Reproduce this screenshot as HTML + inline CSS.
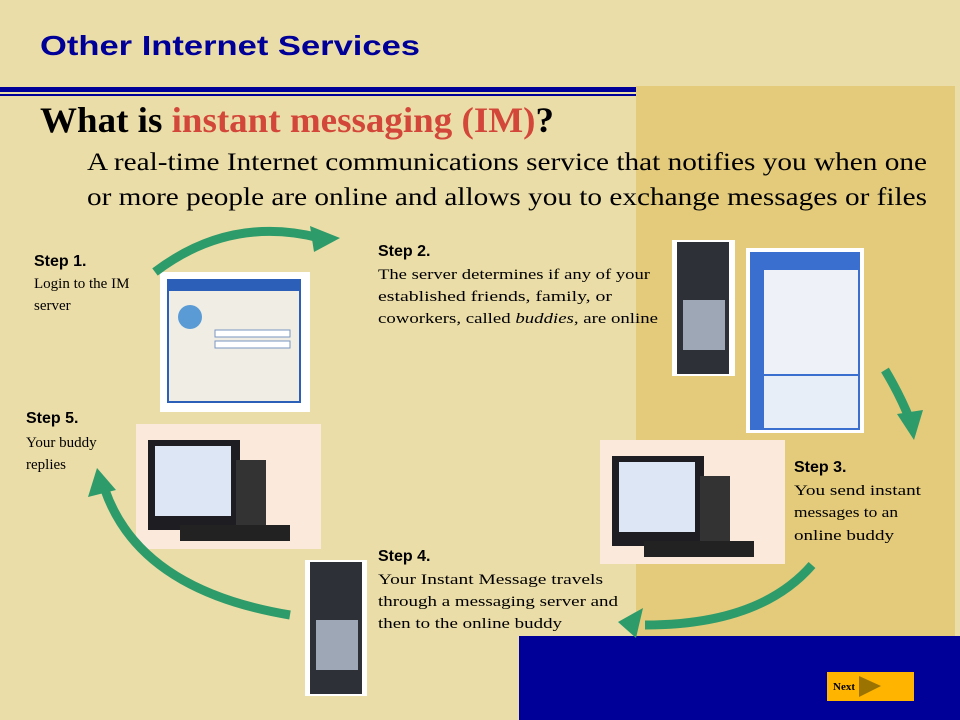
<!DOCTYPE html>
<html><head><meta charset="utf-8"><style>
html,body{margin:0;padding:0;background:#EBDDA7;}
svg{display:block}
.s{font-family:"Liberation Sans",Arial,sans-serif}
.r{font-family:"Liberation Serif","Times New Roman",serif}
</style></head><body>
<svg width="960" height="720" viewBox="0 0 960 720" xmlns="http://www.w3.org/2000/svg">
<rect width="960" height="720" fill="#EBDDA7"/>
<rect x="636" y="86" width="319" height="634" fill="#E3CB7B"/>
<rect x="0" y="87" width="636" height="5" fill="#000099"/>
<rect x="0" y="94" width="636" height="2" fill="#000099"/>
<text class="s" x="40" y="55" font-weight="bold" font-size="28" fill="#000099" textLength="380" lengthAdjust="spacingAndGlyphs">Other Internet Services</text>
<text class="r" x="40" y="132" font-weight="bold" font-size="36" textLength="514" lengthAdjust="spacingAndGlyphs"><tspan fill="#000">What is </tspan><tspan fill="#D2473A">instant messaging (IM)</tspan><tspan fill="#000">?</tspan></text>
<g class="r" font-size="25" fill="#000">
<text x="87" y="170" textLength="840" lengthAdjust="spacingAndGlyphs">A real-time Internet communications service that notifies you when one</text>
<text x="87" y="205" textLength="840" lengthAdjust="spacingAndGlyphs">or more people are online and allows you to exchange messages or files</text>
</g>
<g class="s" font-weight="bold" font-size="16" fill="#000">
<text x="34" y="266">Step 1.</text>
<text x="378" y="256">Step 2.</text>
<text x="26" y="423">Step 5.</text>
<text x="794" y="472">Step 3.</text>
<text x="378" y="561">Step 4.</text>
</g>
<g class="r" font-size="15" fill="#000">
<text x="34" y="288">Login to the IM</text>
<text x="34" y="310">server</text>
<text x="378" y="279" textLength="272" lengthAdjust="spacingAndGlyphs">The server determines if any of your</text>
<text x="378" y="301" textLength="234" lengthAdjust="spacingAndGlyphs">established friends, family, or</text>
<text x="378" y="323" textLength="280" lengthAdjust="spacingAndGlyphs">coworkers, called <tspan font-style="italic">buddies</tspan>, are online</text>
<text x="26" y="447">Your buddy</text>
<text x="26" y="469">replies</text>
<text x="794" y="495" textLength="127" lengthAdjust="spacingAndGlyphs">You send instant</text>
<text x="794" y="517" textLength="104" lengthAdjust="spacingAndGlyphs">messages to an</text>
<text x="794" y="540" textLength="100" lengthAdjust="spacingAndGlyphs">online buddy</text>
<text x="378" y="584" textLength="225" lengthAdjust="spacingAndGlyphs">Your Instant Message travels</text>
<text x="378" y="606" textLength="240" lengthAdjust="spacingAndGlyphs">through a messaging server and</text>
<text x="378" y="628" textLength="184" lengthAdjust="spacingAndGlyphs">then to the online buddy</text>
</g>
<rect x="519" y="636" width="441" height="84" fill="#000099"/>
<rect x="827" y="672" width="87" height="29" fill="#FFB400"/>
<polygon points="859,676 881,686 859,697" fill="#9B7300"/>
<text class="r" x="833" y="690" font-weight="bold" font-size="11" fill="#000">Next</text>
<rect x="160" y="272" width="150" height="140" fill="#fff"/>
<rect x="168" y="280" width="132" height="122" fill="#F0EEE4" stroke="#2B5FB8" stroke-width="2"/>
<rect x="168" y="280" width="132" height="11" fill="#2B5FB8"/>
<circle cx="190" cy="317" r="12" fill="#5A9BD5"/>
<rect x="215" y="330" width="75" height="7" fill="#fff" stroke="#7A96C2"/>
<rect x="215" y="341" width="75" height="7" fill="#fff" stroke="#7A96C2"/>
<rect x="672" y="240" width="63" height="136" fill="#fff"/>
<rect x="677" y="242" width="52" height="132" fill="#2E3038"/>
<rect x="683" y="300" width="42" height="50" fill="#9EA7B6"/>
<rect x="746" y="248" width="118" height="185" fill="#fff"/>
<rect x="750" y="252" width="110" height="178" fill="#3A6FD0"/>
<rect x="764" y="270" width="94" height="104" fill="#EEF2F8"/>
<rect x="764" y="376" width="94" height="52" fill="#E8EEF8"/>
<rect x="136" y="424" width="185" height="125" fill="#FBEADC"/>
<rect x="148" y="440" width="92" height="90" fill="#1E1E22"/>
<rect x="155" y="446" width="76" height="70" fill="#DDE6F5"/>
<rect x="236" y="460" width="30" height="68" fill="#333"/>
<rect x="180" y="525" width="110" height="16" fill="#222"/>
<rect x="600" y="440" width="185" height="124" fill="#FBEADC"/>
<rect x="612" y="456" width="92" height="90" fill="#1E1E22"/>
<rect x="619" y="462" width="76" height="70" fill="#DDE6F5"/>
<rect x="700" y="476" width="30" height="68" fill="#333"/>
<rect x="644" y="541" width="110" height="16" fill="#222"/>
<rect x="305" y="560" width="62" height="136" fill="#fff"/>
<rect x="310" y="562" width="52" height="132" fill="#2E3038"/>
<rect x="316" y="620" width="42" height="50" fill="#9EA7B6"/>
<g fill="none" stroke="#2E9B6A" stroke-width="9">
<path d="M155 272 Q230 215 320 238"/>
<path d="M885 370 Q900 395 910 420"/>
<path d="M812 565 Q760 625 645 625"/>
<path d="M290 615 Q140 590 105 490"/>
</g>
<g fill="#2E9B6A">
<polygon points="340,238 310,226 314,252"/>
<polygon points="914,440 897,414 923,410"/>
<polygon points="618,622 643,608 636,638"/>
<polygon points="97,468 88,497 116,490"/>
</g>
</svg>
</body></html>
